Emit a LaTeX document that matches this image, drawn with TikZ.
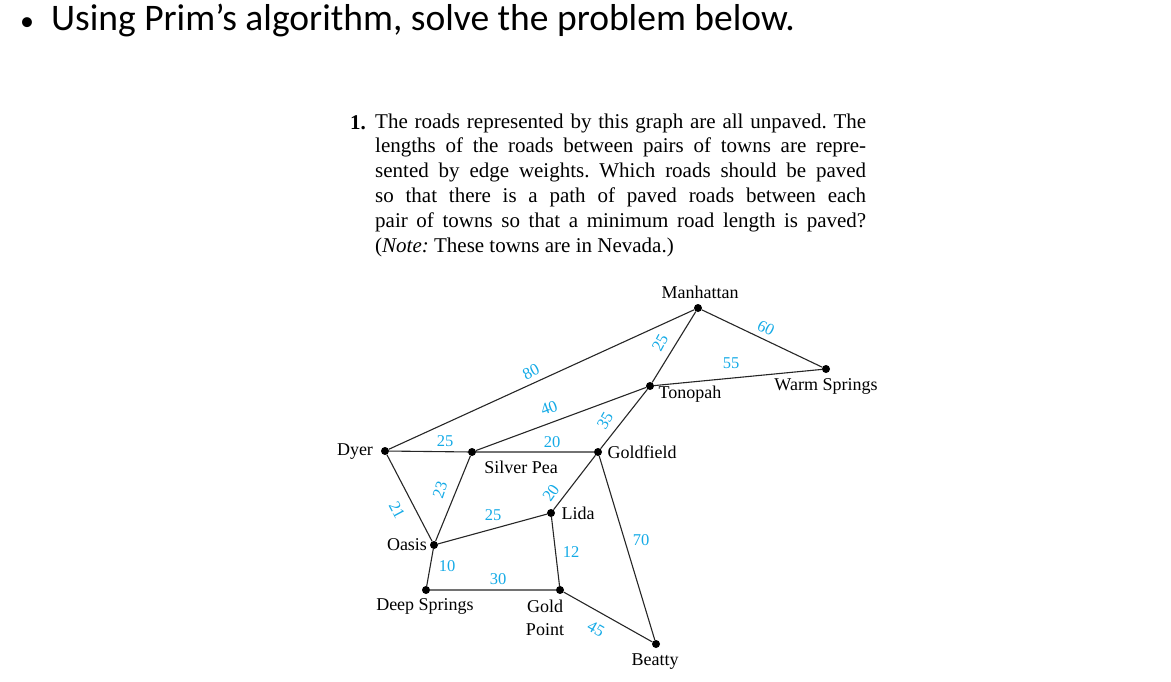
\documentclass[tikz,border=0pt]{standalone}
\usepackage{fontspec}
\setmainfont{Liberation Serif}
\newfontfamily\titlefont{Carlito}
\definecolor{wcol}{RGB}{20,170,230}
\frenchspacing
\begin{document}
\begin{tikzpicture}[x=1pt,y=-1pt,
  v/.style={circle,fill=black,inner sep=0pt,minimum size=8pt},
  lab/.style={font=\fontsize{18}{19}\selectfont,inner sep=0pt},
  w/.style={font=\fontsize{16.5}{17}\selectfont,text=wcol,inner sep=0pt},
  ed/.style={draw=black!85,line width=1.1pt},
  pl/.style={anchor=west,inner sep=0pt,font=\fontsize{21}{22}\selectfont}]
\useasboundingbox (0,0) rectangle (1171,681);
\node[anchor=west,inner sep=0pt,font=\titlefont\fontsize{37.5}{40}\selectfont] (title) at (20,20) {{\fontsize{28}{30}\selectfont•}\ \ Using Prim’s algorithm, solve the problem below.};
\node[pl] (n1) at (350,123) {\textbf{1.}};
\node[pl] (l1) at (375,123) {\makebox[491pt][s]{The roads represented by this graph are all unpaved. The}};
\node[pl] (l2) at (375,147) {\makebox[491pt][s]{lengths of the roads between pairs of towns are repre-}};
\node[pl] (l3) at (375,172) {\makebox[491pt][s]{sented by edge weights. Which roads should be paved}};
\node[pl] (l4) at (375,197) {\makebox[491pt][s]{so that there is a path of paved roads between each}};
\node[pl] (l5) at (375,222) {\makebox[491pt][s]{pair of towns so that a minimum road length is paved?}};
\node[pl] (l6) at (375,247) {(\textit{Note:} These towns are in Nevada.)};
% vertices
\node[v] (man) at (698,308) {};
\node[v] (ws) at (826,369) {};
\node[v] (ton) at (650,386) {};
\node[v] (dy) at (385,451) {};
\node[v] (sp) at (472,452) {};
\node[v] (gf) at (598,452) {};
\node[v] (li) at (551,513) {};
\node[v] (oa) at (434,545) {};
\node[v] (ds) at (426,590) {};
\node[v] (gp) at (560,590) {};
\node[v] (be) at (656,644) {};
% labels
\node[lab] (tman) at (700,292) {Manhattan};
\node[lab] (tws) at (826,386) {Warm Springs};
\node[lab] (tton) at (690,394) {Tonopah};
\node[lab] (tdy) at (355,452) {Dyer};
\node[lab] (tsp) at (521,467) {Silver Pea};
\node[lab] (tgf) at (642,452) {Goldfield};
\node[lab] (tli) at (578,513) {Lida};
\node[lab] (toa) at (407,545) {Oasis};
\node[lab] (tds) at (425,606) {Deep Springs};
\node[lab] (tgp) at (545,606) {Gold};
\node[lab] (tgp2) at (545,630) {Point};
\node[lab] (tbe) at (655,662) {Beatty};
% edges
\draw[ed] (dy)--(man) (man)--(ton) (man)--(ws) (ton)--(ws) (sp)--(ton) (gf)--(ton)
 (dy)--(sp) (sp)--(gf) (dy)--(oa) (sp)--(oa) (gf)--(li) (oa)--(li) (li)--(gp)
 (gf)--(be) (oa)--(ds) (ds)--(gp) (gp)--(be);
% weights
\node[w,rotate=27] (w1) at (531,372) {80};
\node[w,rotate=62] (w2) at (660,343) {25};
\node[w,rotate=-27] (w3) at (766,328) {60};
\node[w] (w4) at (731,363) {55};
\node[w,rotate=20] (w5) at (549,408) {40};
\node[w,rotate=60] (w6) at (605,421) {35};
\node[w] (w7) at (445,441) {25};
\node[w] (w8) at (552,442) {20};
\node[w,rotate=-62] (w9) at (397,510) {21};
\node[w,rotate=72] (w10) at (440,490) {23};
\node[w,rotate=55] (w11) at (551,493) {20};
\node[w] (w12) at (493,515) {25};
\node[w] (w13) at (571,552) {12};
\node[w] (w14) at (641,540) {70};
\node[w] (w15) at (447,566) {10};
\node[w] (w16) at (498,579) {30};
\node[w,rotate=-30] (w17) at (596,629) {45};
\end{tikzpicture}
\end{document}
